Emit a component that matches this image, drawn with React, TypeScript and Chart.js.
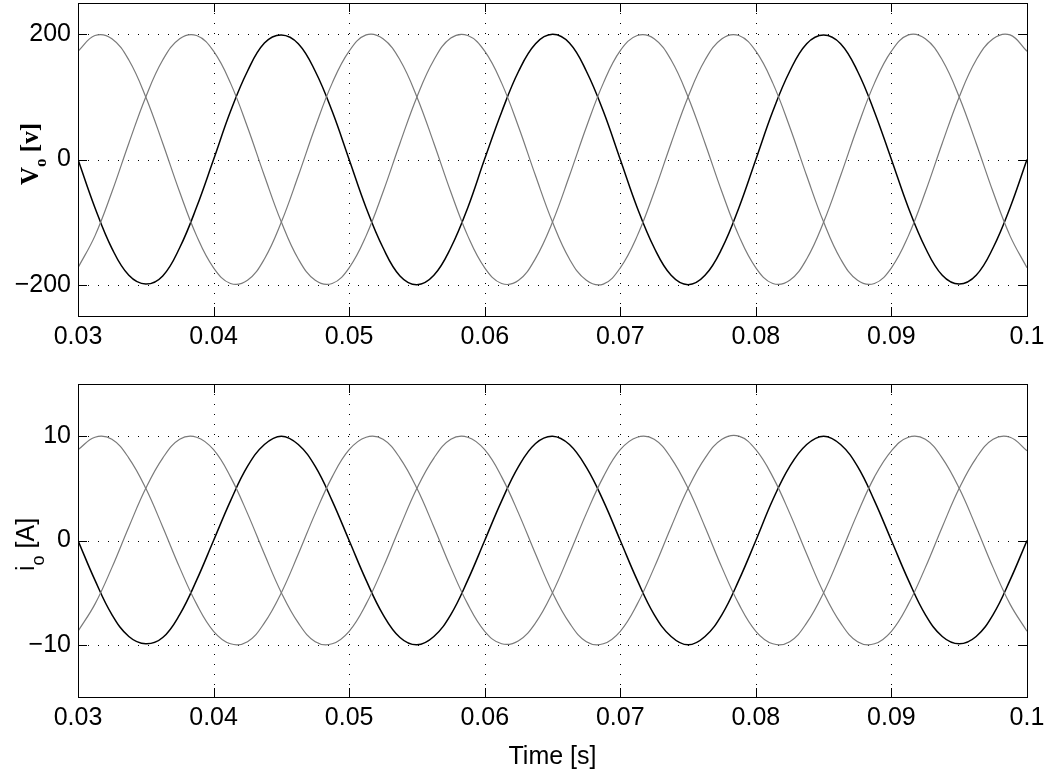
import { useEffect, useRef } from "react";
import { Chart, registerables } from "chart.js";

Chart.register(...registerables);

const SANS = '"Liberation Sans", Arial, Helvetica, sans-serif';
const SERIF = '"Liberation Serif", "Times New Roman", serif';

// sample instants [s]
const sampleTimes = [
  0.03, 0.03125, 0.0325, 0.03375, 0.035, 0.03625, 0.0375, 0.03875,
  0.04, 0.04125, 0.0425, 0.04375, 0.045, 0.04625, 0.0475, 0.04875,
  0.05, 0.05125, 0.0525, 0.05375, 0.055, 0.05625, 0.0575, 0.05875,
  0.06, 0.06125, 0.0625, 0.06375, 0.065, 0.06625, 0.0675, 0.06875,
  0.07, 0.07125, 0.0725, 0.07375, 0.075, 0.07625, 0.0775, 0.07875,
  0.08, 0.08125, 0.0825, 0.08375, 0.085, 0.08625, 0.0875, 0.08875,
  0.09, 0.09125, 0.0925, 0.09375, 0.095, 0.09625, 0.0975, 0.09875,
  0.1,
];

const timeTicks = [0.03, 0.04, 0.05, 0.06, 0.07, 0.08, 0.09, 0.1];
const timeTickLabels = ["0.03", "0.04", "0.05", "0.06", "0.07", "0.08", "0.09", "0.1"];

const voltageTicks = [-200, 0, 200];
const voltageTickLabels = ["\u2212200", "0", "200"];
const currentTicks = [-10, 0, 10];
const currentTickLabels = ["\u221210", "0", "10"];

// output voltage [V]
const voltageBlack = [
  0, -77, -142, -185, -199, -186, -141, -76, 0, 77, 141, 186, 199, 185, 141, 77,
  0, -77, -141, -186, -200, -185, -141, -77, 1, 76, 141, 185, 200, 186, 141, 77,
  0, -77, -141, -185, -200, -185, -142, -77, 0, 77, 141, 185, 199, 185, 141, 76,
  0, -77, -141, -185, -199, -185, -141, -77, 0,
];
const voltageGrayA = [
  173, 198, 193, 159, 100, 26, -52, -122, -173, -198, -193, -159, -100, -26, 52, 122,
  173, 199, 193, 159, 100, 26, -52, -122, -173, -198, -193, -158, -100, -26, 52, 122,
  174, 198, 193, 159, 100, 26, -52, -122, -173, -198, -193, -159, -100, -26, 52, 122,
  173, 199, 193, 159, 100, 26, -52, -122, -173,
];
const voltageGrayB = [
  -173, -122, -52, 26, 100, 159, 193, 198, 173, 122, 52, -26, -100, -159, -193, -198,
  -173, -122, -52, 26, 100, 159, 194, 198, 173, 122, 52, -26, -100, -159, -193, -199,
  -173, -122, -52, 26, 100, 159, 193, 198, 173, 122, 52, -26, -100, -159, -193, -198,
  -173, -122, -52, 26, 100, 159, 193, 199, 173,
];

// output current [A]
const currentBlack = [
  0, -3.8, -7.1, -9.2, -9.9, -9.3, -7.1, -3.8, 0, 3.8, 7.1, 9.2, 10, 9.2, 7.1, 3.8,
  0, -3.8, -7.1, -9.3, -10, -9.2, -7.1, -3.8, 0, 3.8, 7.1, 9.3, 10, 9.2, 7.0, 3.8,
  0, -3.8, -7.1, -9.2, -10, -9.2, -7.1, -3.8, 0, 3.9, 7.1, 9.2, 10, 9.2, 7.1, 3.8,
  0, -3.8, -7.1, -9.2, -9.9, -9.2, -7.1, -3.8, 0,
];
const currentGrayA = [
  8.7, 9.9, 9.7, 7.9, 5.0, 1.3, -2.6, -6.1, -8.7, -9.9, -9.7, -7.9, -5.0, -1.3, 2.6, 6.1,
  8.7, 9.9, 9.7, 7.9, 5.0, 1.3, -2.6, -6.1, -8.7, -9.9, -9.6, -7.9, -5.0, -1.3, 2.6, 6.1,
  8.7, 9.9, 9.7, 7.9, 5.0, 1.3, -2.6, -6.1, -8.7, -9.9, -9.7, -7.9, -5.0, -1.3, 2.6, 6.1,
  8.6, 9.9, 9.7, 7.9, 5.0, 1.3, -2.6, -6.1, -8.7,
];
const currentGrayB = [
  -8.7, -6.1, -2.6, 1.3, 5.0, 7.9, 9.7, 9.9, 8.7, 6.1, 2.6, -1.3, -5.0, -7.9, -9.7, -9.9,
  -8.7, -6.1, -2.6, 1.3, 5.0, 7.9, 9.7, 9.9, 8.7, 6.1, 2.6, -1.3, -5.0, -7.9, -9.7, -9.9,
  -8.7, -6.1, -2.6, 1.3, 5.0, 7.9, 9.7, 10, 8.7, 6.1, 2.6, -1.3, -5.0, -7.9, -9.7, -9.9,
  -8.7, -6.1, -2.6, 1.3, 5.0, 7.9, 9.7, 9.9, 8.6,
];

type Part = { text: string; font: string; dy: number };

function drawRotated(ctx: CanvasRenderingContext2D, x: number, y: number, parts: Part[]) {
  ctx.save();
  ctx.translate(x, y);
  ctx.rotate(-Math.PI / 2);
  ctx.fillStyle = "#000";
  ctx.textBaseline = "alphabetic";
  ctx.textAlign = "left";
  let cx = 0;
  for (const p of parts) {
    ctx.font = p.font;
    ctx.fillText(p.text, cx, p.dy);
    cx += ctx.measureText(p.text).width;
  }
  ctx.restore();
}

type PanelSpec = {
  black: number[];
  grayA: number[];
  grayB: number[];
  yMin: number;
  yMax: number;
  yTicks: number[];
  yTickLabels: string[];
  padding: { top: number; right: number; bottom: number; left: number };
  xAxisHeight: number;
  extras: (ctx: CanvasRenderingContext2D) => void;
};

function toPoints(values: number[]) {
  return sampleTimes.map((t, i) => ({ x: t, y: values[i] }));
}

function makeChart(canvas: HTMLCanvasElement, spec: PanelSpec) {
  const framePlugin = {
    id: "matlabFrame",
    beforeDatasetsDraw(chart: any) {
      const { ctx, chartArea } = chart;
      const { left, right, top, bottom } = chartArea;
      const xs = chart.scales.x;
      const ys = chart.scales.y;
      ctx.save();
      ctx.strokeStyle = "#000";
      ctx.lineWidth = 1;
      ctx.setLineDash([1, 9]);
      for (const v of timeTicks) {
        const px = Math.round(xs.getPixelForValue(v)) + 0.5;
        ctx.beginPath();
        ctx.moveTo(px, top);
        ctx.lineTo(px, bottom);
        ctx.stroke();
      }
      for (const v of spec.yTicks) {
        const py = Math.round(ys.getPixelForValue(v)) + 0.5;
        ctx.beginPath();
        ctx.moveTo(left, py);
        ctx.lineTo(right, py);
        ctx.stroke();
      }
      ctx.restore();
    },
    afterDraw(chart: any) {
      const { ctx, chartArea } = chart;
      const { left, right, top, bottom } = chartArea;
      const xs = chart.scales.x;
      const ys = chart.scales.y;
      const tl = 9;
      ctx.save();
      ctx.strokeStyle = "#000";
      ctx.lineWidth = 1;
      ctx.setLineDash([]);
      ctx.strokeRect(Math.round(left) + 0.5, Math.round(top) + 0.5, Math.round(right - left), Math.round(bottom - top));
      ctx.beginPath();
      for (const v of timeTicks) {
        const px = Math.round(xs.getPixelForValue(v)) + 0.5;
        ctx.moveTo(px, bottom);
        ctx.lineTo(px, bottom - tl);
        ctx.moveTo(px, top);
        ctx.lineTo(px, top + tl);
      }
      for (const v of spec.yTicks) {
        const py = Math.round(ys.getPixelForValue(v)) + 0.5;
        ctx.moveTo(left, py);
        ctx.lineTo(left + tl, py);
        ctx.moveTo(right, py);
        ctx.lineTo(right - tl, py);
      }
      ctx.stroke();
      ctx.restore();
      spec.extras(ctx);
    },
  };

  const lineStyle = (color: string, width: number) => ({
    borderColor: color,
    borderWidth: width,
    pointRadius: 0,
    tension: 0.4,
    fill: false,
  });

  return new Chart(canvas, {
    type: "line",
    data: {
      datasets: [
        { data: toPoints(spec.grayA), ...lineStyle("#7a7a7a", 1.2) },
        { data: toPoints(spec.grayB), ...lineStyle("#7a7a7a", 1.2) },
        { data: toPoints(spec.black), ...lineStyle("#000000", 1.5) },
      ],
    },
    options: {
      responsive: false,
      animation: false,
      events: [],
      layout: { padding: spec.padding },
      plugins: { legend: { display: false }, tooltip: { enabled: false } },
      scales: {
        x: {
          type: "linear",
          min: 0.03,
          max: 0.1,
          grid: { display: false, drawTicks: false },
          border: { display: false },
          afterBuildTicks(scale: any) {
            scale.ticks = timeTicks.map((v) => ({ value: v }));
          },
          afterFit(scale: any) {
            scale.height = spec.xAxisHeight;
            scale.paddingLeft = 0;
            scale.paddingRight = 0;
          },
          ticks: {
            autoSkip: false,
            maxRotation: 0,
            minRotation: 0,
            padding: 6,
            color: "#000",
            font: { family: SANS, size: 25 },
            callback: (_v: any, i: number) => timeTickLabels[i],
          },
        },
        y: {
          type: "linear",
          min: spec.yMin,
          max: spec.yMax,
          grid: { display: false, drawTicks: false },
          border: { display: false },
          afterBuildTicks(scale: any) {
            scale.ticks = spec.yTicks.map((v) => ({ value: v }));
          },
          afterFit(scale: any) {
            scale.width = 78;
            scale.paddingTop = 0;
            scale.paddingBottom = 0;
          },
          ticks: {
            autoSkip: false,
            padding: 7,
            color: "#000",
            font: { family: SANS, size: 25 },
            callback: (_v: any, i: number) => spec.yTickLabels[i],
          },
        },
      },
    },
    plugins: [framePlugin],
  } as any);
}

export default function App() {
  const topRef = useRef<HTMLCanvasElement>(null);
  const botRef = useRef<HTMLCanvasElement>(null);

  useEffect(() => {
    const top = makeChart(topRef.current!, {
      black: voltageBlack,
      grayA: voltageGrayA,
      grayB: voltageGrayB,
      yMin: -250,
      yMax: 250,
      yTicks: voltageTicks,
      yTickLabels: voltageTickLabels,
      padding: { top: 3, right: 25, bottom: 0, left: 0 },
      xAxisHeight: 44,
      extras: (ctx) => {
        drawRotated(ctx, 38, 185, [
          { text: "V", font: `bold 25px ${SERIF}`, dy: 0 },
          { text: "o", font: `bold 17px ${SERIF}`, dy: 8 },
          { text: " [v]", font: `bold 25px ${SERIF}`, dy: 0 },
        ]);
      },
    });
    const bottom = makeChart(botRef.current!, {
      black: currentBlack,
      grayA: currentGrayA,
      grayB: currentGrayB,
      yMin: -15,
      yMax: 15,
      yTicks: currentTicks,
      yTickLabels: currentTickLabels,
      padding: { top: 24, right: 25, bottom: 39, left: 0 },
      xAxisHeight: 44,
      extras: (ctx) => {
        drawRotated(ctx, 34, 211, [
          { text: "i", font: `25px ${SANS}`, dy: 0 },
          { text: "o", font: `18px ${SANS}`, dy: 10 },
          { text: " [A]", font: `25px ${SANS}`, dy: 0 },
        ]);
        ctx.save();
        ctx.fillStyle = "#000";
        ctx.font = `25px ${SANS}`;
        ctx.textAlign = "center";
        ctx.textBaseline = "middle";
        ctx.fillText("Time [s]", 552.5, 397);
        ctx.restore();
      },
    });
    return () => {
      top.destroy();
      bottom.destroy();
    };
  }, []);

  return (
    <div style={{ position: "fixed", left: 0, top: 0, width: 1052, height: 780, background: "#fff" }}>
      <canvas
        ref={topRef}
        width={1052}
        height={360}
        style={{ position: "absolute", left: 0, top: 0, width: 1052, height: 360 }}
      />
      <canvas
        ref={botRef}
        width={1052}
        height={420}
        style={{ position: "absolute", left: 0, top: 360, width: 1052, height: 420 }}
      />
    </div>
  );
}
